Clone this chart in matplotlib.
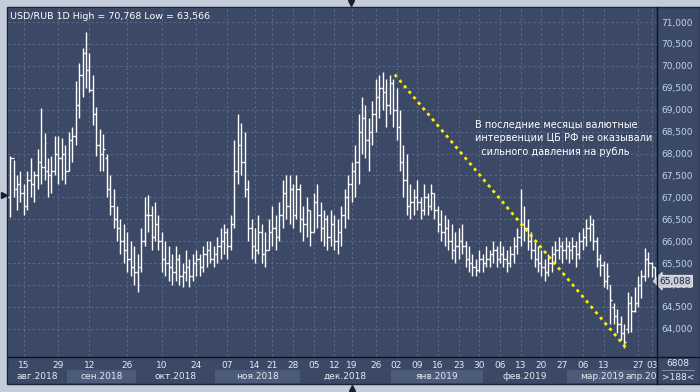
import numpy as np
import matplotlib
matplotlib.use("Agg")
import matplotlib.pyplot as plt
import matplotlib.transforms as mtransforms
from matplotlib.patches import Rectangle
from matplotlib.lines import Line2D

# daily bars USD/RUB, Aug 2018 - Apr 2019
highs = [67.95, 67.85, 67.5, 67.6, 67.3, 67.6, 67.9, 67.6, 68.1, 69.04,
         68.47, 67.9, 67.94, 68.4, 68.4, 68.35, 68.2, 68.5, 68.6, 69.65,
         70.06, 70.4, 70.77, 70.3, 69.8, 69.06, 68.55, 68.44, 68.0, 67.5,
         67.2, 66.8, 66.5, 66.4, 66.2, 66.0, 65.9, 65.7, 66.3, 67.0,
         67.05, 66.8, 66.9, 66.6, 66.2, 66.0, 65.9, 65.7, 65.9, 65.7,
         65.5, 65.8, 65.6, 65.7, 65.8, 65.7, 65.9, 66.0, 66.0, 65.9,
         66.1, 66.3, 66.4, 66.3, 66.6, 68.3, 68.9, 68.7, 68.5, 67.4,
         66.5, 66.3, 66.6, 66.4, 66.2, 66.5, 66.8, 66.6, 66.9, 67.4,
         67.5, 67.5, 67.3, 67.5, 67.3, 66.8, 67.0, 66.7, 67.1, 67.3,
         66.9, 66.7, 66.6, 66.7, 66.6, 66.5, 66.8, 67.2, 67.5, 67.8,
         68.2, 68.9, 69.3, 69.1, 68.8, 69.2, 69.7, 69.8, 69.85, 69.7,
         69.8, 69.7, 69.5, 69.0, 68.2, 68.0, 67.3, 67.2, 67.4, 67.0,
         67.3, 67.1, 67.3, 67.1, 66.8, 66.7, 66.6, 66.5, 66.4, 66.2,
         66.3, 66.4, 66.0, 65.9, 65.7, 65.6, 65.8, 65.7, 65.9, 65.8,
         66.0, 65.9, 66.0, 65.9, 65.8, 65.9, 66.1, 66.3, 67.2, 66.8,
         66.5, 66.2, 66.0, 65.9, 65.8, 65.6, 65.7, 65.9, 66.0, 66.1,
         66.0, 66.1, 66.0, 66.1, 66.0, 66.2, 66.3, 66.5, 66.6, 66.5,
         66.1, 65.7, 65.55, 65.5, 65.0, 64.6, 64.45, 64.3, 64.1, 64.84,
         64.75, 64.95, 65.2, 65.34, 65.84, 65.75, 65.52, 65.41]
lows = [66.55, 67.0, 66.7, 66.9, 66.6, 66.7, 67.0, 66.9, 67.2, 67.3,
        67.4, 67.0, 67.1, 67.5, 67.3, 67.4, 67.3, 67.6, 67.8, 68.2,
        68.8, 69.3, 69.5, 69.4, 68.65, 67.94, 67.6, 67.6, 67.0, 66.6,
        66.3, 66.0, 65.7, 65.5, 65.3, 65.2, 65.0, 64.84, 65.3, 65.9,
        66.2, 65.8, 66.0, 65.8, 65.3, 65.2, 65.1, 65.0, 65.1, 65.0,
        64.95, 65.1, 64.95, 65.1, 65.2, 65.2, 65.3, 65.4, 65.5, 65.4,
        65.5, 65.6, 65.7, 65.6, 65.8, 66.3, 67.3, 67.5, 67.0, 66.0,
        65.6, 65.5, 65.7, 65.5, 65.4, 65.8, 65.9, 65.8, 66.0, 66.3,
        66.5, 66.4, 66.3, 66.5, 66.2, 66.0, 66.1, 65.9, 66.2, 66.3,
        66.0, 65.9, 65.8, 65.9, 65.8, 65.7, 65.9, 66.3, 66.5, 66.9,
        67.0, 67.3, 68.0, 67.9, 67.6, 68.2, 68.5, 68.8, 69.0, 68.6,
        68.9, 68.6, 68.3, 67.6, 67.0, 66.6, 66.5, 66.6, 66.7, 66.5,
        66.6, 66.6, 66.7, 66.5, 66.2, 66.0, 65.9, 65.8, 65.6, 65.5,
        65.6, 65.7, 65.4, 65.3, 65.2, 65.2, 65.3, 65.3, 65.4, 65.4,
        65.5, 65.4, 65.5, 65.4, 65.3, 65.4, 65.5, 65.7, 65.9, 66.0,
        65.8, 65.6, 65.4, 65.3, 65.2, 65.1, 65.2, 65.3, 65.5, 65.6,
        65.5, 65.6, 65.5, 65.6, 65.4, 65.6, 65.8, 65.9, 66.0, 65.8,
        65.4, 65.2, 64.95, 64.9, 64.1, 64.1, 63.9, 63.74, 63.566, 63.9,
        63.92, 64.38, 64.5, 64.7, 65.1, 65.18, 65.18, 65.06]
opens = [67.0, 67.9, 67.2, 67.3, 67.1, 66.8, 67.4, 67.3, 67.5, 67.8,
         67.7, 67.6, 67.5, 67.6, 68.0, 67.9, 68.0, 67.6, 68.3, 68.4,
         69.1, 69.8, 70.3, 69.9, 69.45, 68.9, 68.2, 68.0, 67.9, 67.2,
         66.8, 66.5, 66.3, 66.0, 65.8, 65.6, 65.4, 65.3, 65.4, 66.0,
         66.6, 66.6, 66.1, 66.4, 66.0, 65.6, 65.5, 65.4, 65.3, 65.6,
         65.2, 65.3, 65.4, 65.2, 65.5, 65.6, 65.4, 65.7, 65.8, 65.6,
         65.7, 65.9, 66.0, 66.2, 65.9, 66.4, 67.6, 68.2, 67.8, 67.2,
         66.3, 65.9, 65.8, 66.2, 65.7, 65.8, 66.2, 66.3, 66.1, 66.6,
         67.1, 66.8, 67.2, 66.6, 67.2, 66.5, 66.4, 66.7, 66.2, 66.9,
         66.6, 66.3, 66.5, 66.1, 66.4, 66.0, 66.2, 66.6, 67.0, 67.3,
         67.6, 67.8, 68.5, 68.8, 68.3, 68.5, 68.9, 69.3, 69.5, 69.4,
         69.1, 69.6, 69.0, 68.6, 67.8, 67.4, 66.8, 66.9, 67.0, 66.9,
         66.7, 67.0, 66.8, 67.1, 66.7, 66.4, 66.2, 66.3, 66.0, 65.8,
         65.9, 66.0, 65.9, 65.6, 65.5, 65.4, 65.35, 65.6, 65.5, 65.6,
         65.7, 65.8, 65.6, 65.7, 65.6, 65.5, 65.7, 65.9, 66.1, 66.4,
         66.3, 66.0, 65.8, 65.6, 65.5, 65.4, 65.3, 65.5, 65.7, 65.8,
         65.9, 65.8, 65.9, 65.8, 65.9, 65.7, 66.0, 66.1, 66.3, 66.4,
         66.0, 65.6, 65.45, 65.1, 65.0, 64.5, 64.3, 64.1, 63.9, 64.0,
         64.6, 64.4, 64.6, 65.0, 65.2, 65.6, 65.5, 65.4]
closes = [67.9, 67.2, 67.3, 67.1, 66.8, 67.4, 67.3, 67.5, 67.8, 67.7,
          68.24, 67.5, 67.6, 68.0, 67.9, 68.0, 67.6, 68.3, 68.4, 69.1,
          69.8, 70.3, 69.9, 69.45, 68.9, 68.2, 68.0, 68.1, 67.2, 66.8,
          66.5, 66.3, 66.0, 65.8, 65.6, 65.4, 65.3, 65.0, 66.0, 66.6,
          66.6, 66.1, 66.4, 66.0, 65.6, 65.5, 65.4, 65.3, 65.6, 65.2,
          65.3, 65.4, 65.2, 65.5, 65.6, 65.4, 65.7, 65.8, 65.6, 65.7,
          65.9, 66.0, 66.2, 65.9, 66.4, 67.6, 68.2, 67.8, 67.2, 66.3,
          65.9, 65.8, 66.2, 65.7, 65.8, 66.2, 66.3, 66.1, 66.6, 67.1,
          66.8, 67.2, 66.6, 67.2, 66.5, 66.4, 66.7, 66.2, 66.9, 66.6,
          66.3, 66.5, 66.1, 66.4, 66.0, 66.2, 66.6, 67.0, 67.3, 67.6,
          67.8, 68.5, 68.8, 68.3, 68.5, 68.9, 69.3, 69.5, 69.4, 69.1,
          69.6, 69.0, 68.6, 67.8, 67.4, 66.8, 66.9, 67.0, 66.9, 66.7,
          67.0, 66.8, 67.1, 66.7, 66.4, 66.2, 66.3, 66.0, 65.8, 65.9,
          66.0, 65.9, 65.6, 65.5, 65.4, 65.35, 65.6, 65.5, 65.6, 65.7,
          65.8, 65.6, 65.7, 65.6, 65.5, 65.7, 65.9, 66.1, 66.4, 66.3,
          66.0, 65.8, 65.6, 65.5, 65.4, 65.3, 65.5, 65.7, 65.8, 65.9,
          65.8, 65.9, 65.8, 65.9, 65.7, 66.0, 66.1, 66.3, 66.4, 66.0,
          65.6, 65.45, 65.1, 65.2, 64.65, 64.3, 64.1, 63.9, 63.7, 64.6,
          64.4, 64.6, 65.0, 65.2, 65.6, 65.5, 65.4, 65.088]

# day ticks (bar index) and labels
tick_pos = [4, 14, 23, 34, 44, 54, 63, 71, 76, 82, 88, 94, 99, 106, 112,
            118, 124, 130, 136, 142, 148, 154, 160, 166, 172, 182, 186]
tick_labels = ['15', '29', '12', '26', '10', '24', '07', '14', '21', '28', '05',
               '12', '19', '26', '02', '09', '16', '23', '30', '06', '13', '20',
               '27', '06', '13', '27', '03']
month_edges = [-0.6, 16.5, 36.5, 59.4, 84.0, 110.4, 137.1, 161.4, 181.5, 187.5]
month_names = ['авг.2018', 'сен.2018', 'окт.2018', 'ноя.2018', 'дек.2018',
               'янв.2019', 'фев.2019', 'мар.2019', 'апр.2019']

trend_x = [111.5, 178.5]
trend_y = [69.8, 63.57]
last_price = 65.088

W, H = 700, 392
def fx(px):
    return px / W
def fy(py):
    return 1 - py / H

bg = '#3b4966'
txt = '#e4e9f2'

fig = plt.figure(figsize=(7, 3.92), dpi=100)
fig.patch.set_facecolor('#c2ccda')

fig.add_artist(Rectangle((fx(7), fy(384)), fx(700) - fx(7), fy(7) - fy(384),
                         transform=fig.transFigure, fc=bg, ec='#1c2535', lw=1,
                         zorder=-5))

ax = fig.add_axes([fx(8), fy(356), fx(657) - fx(8), fy(8) - fy(356)])
ax.set_facecolor(bg)
x = np.arange(len(closes))
ax.vlines(x, lows, highs, color='white', lw=1.0)
ax.hlines(opens, x - 0.5, x, color='white', lw=1.0)
ax.hlines(closes, x, x + 0.5, color='white', lw=1.0)

ax.plot(trend_x, trend_y, color='#ffee00', lw=2.0, ls=(0, (1.1, 1.5)))

ax.set_xlim(-0.6, 187.5)
ax.set_ylim(63.38, 71.32)
yt = np.arange(64.0, 71.01, 0.5)
ax.set_yticks(yt)
ax.set_yticklabels([f"{v:.3f}".replace('.', ',') for v in yt])
ax.yaxis.tick_right()
ax.set_xticks(tick_pos)
ax.set_xticklabels(tick_labels)
ax.tick_params(axis='y', length=0, pad=3, labelsize=6.5, labelcolor='#bcd4f2')
ax.tick_params(axis='x', length=0, pad=3.5, labelsize=6.5, labelcolor=txt)
ax.grid(color='#5a6a8a', ls=(0, (2.5, 2.5)), lw=0.7)
for s in ax.spines.values():
    s.set_visible(False)

ax.text(0.003, 0.988, 'USD/RUB 1D High = 70,768 Low = 63,566', transform=ax.transAxes,
        ha='left', va='top', color='white', fontsize=6.8)

ax.text(134.8, 68.78, 'В последние месяцы валютные\nинтервенции ЦБ РФ не оказывали\n  сильного давления на рубль',
        ha='left', va='top', color='white', fontsize=7.0, linespacing=1.45)

tr = mtransforms.blended_transform_factory(ax.transAxes, ax.transData)
ax.text(1.004, last_price, '65,088', transform=tr, ha='left', va='center',
        fontsize=6.5, color='#1a2640', clip_on=False, zorder=10,
        bbox=dict(boxstyle='larrow,pad=0.15', fc='#c7ccd6', ec='#eef0f4', lw=0.6))

# month strip
ax2 = fig.add_axes([fx(8), fy(383), fx(657) - fx(8), fy(370) - fy(383)])
ax2.set_facecolor(bg)
ax2.set_xlim(-0.6, 187.5)
ax2.set_ylim(0, 1)
ax2.set_xticks([])
ax2.set_yticks([])
for s in ax2.spines.values():
    s.set_visible(False)
for i, name in enumerate(month_names):
    a, b = month_edges[i], month_edges[i + 1]
    if i % 2 == 1:
        ax2.axvspan(a, b, color='#4c5b7a', lw=0)
    elif i == 8:
        ax2.axvspan(a, b, color='#46536e', lw=0)
    ax2.text((a + b) / 2, 0.5, name, ha='center', va='center', color=txt,
             fontsize=6.5, clip_on=True)

# separators
fig.add_artist(Line2D([fx(657), fx(657)], [fy(7), fy(384)], color='#0d1320', lw=1,
                      transform=fig.transFigure, zorder=5))
fig.add_artist(Line2D([fx(8), fx(700)], [fy(356.5), fy(356.5)], color='#0d1320', lw=1,
                      transform=fig.transFigure, zorder=5))

fig.text(fx(678), fy(363), '6808', ha='center', va='center', color=txt, fontsize=6.5)
fig.text(fx(678), fy(377), '>188<', ha='center', va='center', color=txt, fontsize=6.5)
fig.add_artist(Line2D([fx(662), fx(694)], [fy(370), fy(370)], color='#8a96aa', lw=0.6,
                      transform=fig.transFigure))

# small edge markers
for px, py, m in [(4, 195, '>'), (351, 3, 'v'), (352, 388, '^')]:
    fig.add_artist(Line2D([fx(px)], [fy(py)], marker=m, ms=5, color='#1a2030', lw=0,
                          transform=fig.transFigure))

fig.savefig('out.png', dpi=100, facecolor=fig.get_facecolor())
